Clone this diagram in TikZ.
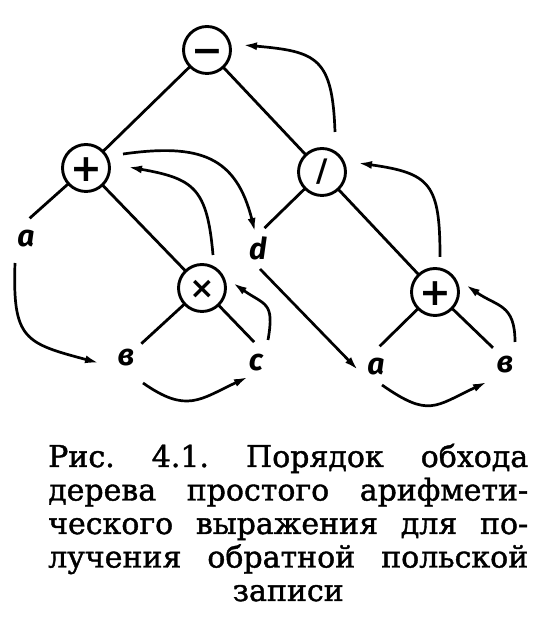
\documentclass[tikz,border=0pt]{standalone}
\usepackage{fontspec}
\setmainfont{DejaVu Serif}
\newfontfamily\capfont{DejaVu Serif}[FakeBold=1.3]
\newfontfamily\leaffont{Fira Sans}
\newfontfamily\symfont{DejaVu Sans}
\usetikzlibrary{arrows.meta,calc}
\begin{document}
\begin{tikzpicture}[x=1pt,y=1pt,
  op/.style={circle,draw,line width=2.9pt,minimum size=47pt,inner sep=0pt,outer sep=0pt,text depth=0pt},
  opbig/.style={op,font=\symfont\bfseries\fontsize{38}{38}\selectfont,text height=26.4pt},
  opmul/.style={op,font=\symfont\bfseries\fontsize{30}{30}\selectfont,text height=20.8pt},
  opdiv/.style={op,font=\symfont\bfseries\fontsize{31}{31}\selectfont,text height=18.6pt},
  leaf/.style={circle,minimum size=42pt,inner sep=0pt,outer sep=0pt,font=\leaffont\bfseries\itshape\fontsize{30}{30}\selectfont},
  edge/.style={line width=2.8pt},
  trav/.style={line width=2.7pt,-{Latex[length=14pt,width=8pt]}},
]
\useasboundingbox (0,0) rectangle (556,644);
\fill[white] (0,0) rectangle (556,644);
% operator nodes
\node[opbig] (m)  at (207,594) {−};
\node[opbig] (p1) at (86,476)  {+};
\node[opdiv] (dv) at (322,472) {/};
\node[opmul] (t)  at (202,356) {×};
\node[opbig] (p2) at (435,352) {+};
% leaves
\node[leaf] (a1) at (26,405)  {a};
\node[leaf] (b1) at (126,286) {в};
\node[leaf] (c1) at (256,281) {c};
\node[leaf] (d1) at (258,396) {d};
\node[leaf] (a2) at (376,277) {a};
\node[leaf] (b2) at (505,279) {в};
% tree edges
\draw[edge] (m) -- (p1);
\draw[edge] (m) -- (dv);
\draw[edge] (p1) -- (a1.80);
\draw[edge] (p1) -- (t);
\draw[edge] (t) -- (b1.43);
\draw[edge] (t) -- (c1.95);
\draw[edge] (dv) -- (d1.72);
\draw[edge] (dv) -- (p2);
\draw[edge] (p2) -- (a2.80);
\draw[edge] (p2) -- (b2.125);
% traversal arrows
\coordinate (s1) at ($(a1)+(-11,-24)$);  \coordinate (e1) at ($(b1)+(-27,-5)$);
\coordinate (s2) at ($(b1)+(17,-25)$);   \coordinate (e2) at ($(c1)+(-8,-14)$);
\coordinate (s3) at ($(c1)+(12,23)$);    \coordinate (e3) at ($(t)+(31,5)$);
\coordinate (s4) at ($(t)+(11,33)$);     \coordinate (e4) at ($(p1)+(42,1)$);
\coordinate (s5) at ($(p1)+(37,14)$);    \coordinate (e5) at ($(d1)+(-3,16)$);
\coordinate (s6) at ($(d1)+(2,-21)$);    \coordinate (e6) at ($(a2)+(-18,-3)$);
\coordinate (s7) at ($(a2)+(6,-18)$);    \coordinate (e7) at ($(b2)+(-18,-17)$);
\coordinate (s8) at ($(b2)+(10,23)$);    \coordinate (e8) at ($(p2)+(31,7)$);
\coordinate (s9) at ($(p2)+(5,35)$);     \coordinate (e9) at ($(dv)+(36,9)$);
\coordinate (s10) at ($(dv)+(13,40)$);   \coordinate (e10) at ($(m)+(36,5)$);
\draw[trav] (s1) to[out=-92,in=165,looseness=1.5] (e1);
\draw[trav] (s2) to[out=-35,in=205,looseness=1.3] (e2);
\draw[trav] (s3) to[out=80,in=-35,looseness=1.5] (e3);
\draw[trav] (s4) to[out=95,in=-10,looseness=1.4] (e4);
\draw[trav] (s5) to[out=8,in=104,looseness=1.3] (e5);
\draw[trav] (s6) -- (e6);
\draw[trav] (s7) to[out=-35,in=205,looseness=1.4] (e7);
\draw[trav] (s8) to[out=90,in=-35,looseness=1.3] (e8);
\draw[trav] (s9) to[out=90,in=-8,looseness=1.5] (e9);
\draw[trav] (s10) to[out=92,in=-5,looseness=1.5] (e10);
% caption
\node[anchor=base west,inner sep=0pt] (cap) at (48,177) {\parbox[t]{480pt}{\capfont\fontsize{30}{33.5}\selectfont\frenchspacing\tolerance=10000\hyphenpenalty=10000\exhyphenpenalty=10000\parfillskip=0pt
Рис. 4.1. Порядок обхода\linebreak
дерева простого арифмети-\linebreak
ческого выражения для по-\linebreak
лучения обратной польской\par
{\centering записи\par}}};
\end{tikzpicture}
\end{document}
